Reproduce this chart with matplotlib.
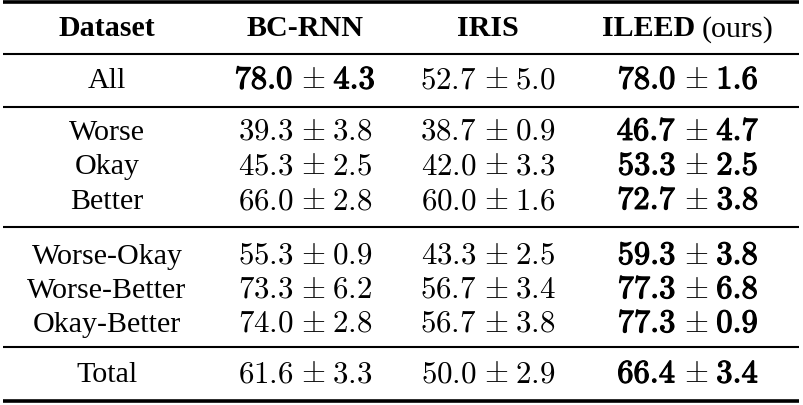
import matplotlib
matplotlib.use("Agg")
import matplotlib.pyplot as plt
import matplotlib.patheffects as pe

# ---- data ----
datasets = ["All", "Worse", "Okay", "Better", "Worse-Okay", "Worse-Better", "Okay-Better", "Total"]
methods = ["BC-RNN", "IRIS", "ILEED"]
bc_rnn_mean = [78.0, 39.3, 45.3, 66.0, 55.3, 73.3, 74.0, 61.6]
bc_rnn_std = [4.3, 3.8, 2.5, 2.8, 0.9, 6.2, 2.8, 3.3]
iris_mean = [52.7, 38.7, 42.0, 60.0, 43.3, 56.7, 56.7, 50.0]
iris_std = [5.0, 0.9, 3.3, 1.6, 2.5, 3.4, 3.8, 2.9]
ileed_mean = [78.0, 46.7, 53.3, 72.7, 59.3, 77.3, 77.3, 66.4]
ileed_std = [1.6, 4.7, 2.5, 3.8, 3.8, 6.8, 0.9, 3.4]

# ---- layout (pixels, baselines) ----
W, H = 804, 405
col_x = [107, 305, 488, 688]
row_y = [88.5, 140, 174.5, 209, 264, 298, 332, 382.5]
header_y = 36.5
mid_lines = [53.5, 107, 227, 347]
top_line, bottom_line = 1.8, 400.5
x0, x1 = 3, 799
gap = 7.0
gap_bold = 8.0

plt.rcParams['mathtext.fontset'] = 'cm'
serif = ['Liberation Serif', 'DejaVu Serif']
fs_text = 21.6
fs_math = 22.3
fs_bold = 23.4

fig = plt.figure(figsize=(W / 100, H / 100), dpi=100)
ax = fig.add_axes([0, 0, 1, 1])
ax.set_xlim(0, W)
ax.set_ylim(H, 0)
ax.axis('off')

# rules
ax.plot([x0, x1], [top_line, top_line], color='black', lw=2.6, solid_capstyle='butt')
ax.plot([x0, x1], [bottom_line, bottom_line], color='black', lw=2.6, solid_capstyle='butt')
for y in mid_lines:
    ax.plot([x0, x1], [y, y], color='black', lw=1.5, solid_capstyle='butt')

fig.canvas.draw()
r = fig.canvas.get_renderer()

# header
tkw = dict(ha='center', va='baseline', family=serif, fontsize=fs_text)
ax.text(col_x[0], header_y, "Dataset", fontweight='bold', **tkw)
ax.text(col_x[1], header_y, methods[0], fontweight='bold', **tkw)
ax.text(col_x[2], header_y, methods[1], fontweight='bold', **tkw)

t1 = ax.text(0, header_y, methods[2], fontweight='bold', ha='left', va='baseline', family=serif, fontsize=fs_text)
t2 = ax.text(0, header_y, "(ours)", ha='left', va='baseline', family=serif, fontsize=fs_text)
w1 = t1.get_window_extent(r).width
w2 = t2.get_window_extent(r).width
space = 6.0
start = 687.5 - (w1 + space + w2) / 2
t1.set_x(start)
t2.set_x(start + w1 + space)

bold_fx = [pe.withStroke(linewidth=0.85, foreground='black')]


def cell(cx, y, m, s, bold):
    fsz = fs_bold if bold else fs_math
    tm = ax.text(0, y, r"$%.1f$" % m, ha='left', va='baseline', fontsize=fsz)
    tp = ax.text(0, y, r"$\pm$", ha='left', va='baseline', fontsize=fs_math)
    ts = ax.text(0, y, r"$%.1f$" % s, ha='left', va='baseline', fontsize=fsz)
    if bold:
        tm.set_path_effects(bold_fx)
        ts.set_path_effects(bold_fx)
    g = gap_bold if bold else gap
    wm = tm.get_window_extent(r).width
    wp = tp.get_window_extent(r).width
    ws = ts.get_window_extent(r).width
    left = cx - (wm + wp + ws + 2 * g) / 2
    tm.set_x(left)
    tp.set_x(left + wm + g)
    ts.set_x(left + wm + g + wp + g)


means = [bc_rnn_mean, iris_mean, ileed_mean]
stds = [bc_rnn_std, iris_std, ileed_std]
for i, name in enumerate(datasets):
    y = row_y[i]
    ax.text(col_x[0], y, name, **tkw)
    best = max(m[i] for m in means)
    for j in range(3):
        cell(col_x[j + 1], y, means[j][i], stds[j][i], means[j][i] == best)

fig.savefig("out.png", dpi=100)
